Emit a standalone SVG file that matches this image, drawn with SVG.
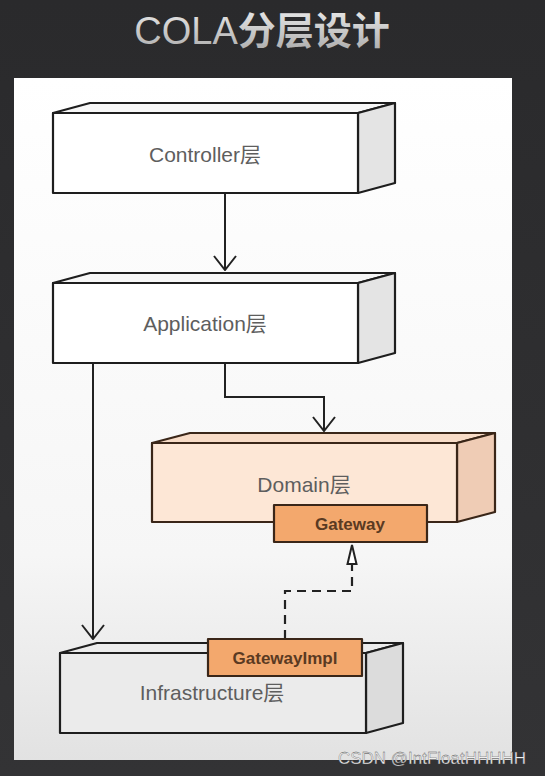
<svg xmlns="http://www.w3.org/2000/svg" width="545" height="776" viewBox="0 0 545 776">
<defs>
<linearGradient id="bg" x1="0" y1="0" x2="0" y2="1"><stop offset="0" stop-color="#2a2a2c"/><stop offset="1" stop-color="#333335"/></linearGradient>
<linearGradient id="panel" x1="0" y1="0" x2="0" y2="1"><stop offset="0" stop-color="#ffffff"/><stop offset="0.7" stop-color="#f6f6f6"/><stop offset="1" stop-color="#e2e2e2"/></linearGradient>
<linearGradient id="title" x1="0" y1="0" x2="0" y2="1"><stop offset="0" stop-color="#f4f4f4"/><stop offset="1" stop-color="#a8a8a8"/></linearGradient>
<marker id="open" viewBox="0 0 24 16" refX="12" refY="15" markerWidth="24" markerHeight="16" markerUnits="userSpaceOnUse" orient="0">
<path d="M1,1 L12,15 L23,1" fill="none" stroke="#222" stroke-width="2"/>
</marker>
</defs>
<style>
.edge{stroke:#222;stroke-width:2;fill:none}
.dash{stroke:#222;stroke-width:2.2;fill:none;stroke-dasharray:9 6}
.box{stroke:#1e1e1e;stroke-width:2.2;stroke-linejoin:round}
.dbox{stroke:#3a2618;stroke-width:2.2;stroke-linejoin:round}
.lbl{font-family:"Liberation Sans","Noto Sans CJK SC",sans-serif;font-size:21px;fill:#5e5e5e;text-anchor:middle}
.olbl{font-family:"Liberation Sans","Noto Sans CJK SC",sans-serif;font-size:17px;font-weight:bold;fill:#5a3a22;text-anchor:middle}
</style>
<rect x="0" y="0" width="545" height="776" fill="url(#bg)"/>
<rect x="14" y="78" width="498" height="682" fill="url(#panel)"/>
<text x="262" y="44" font-family="Liberation Sans,Noto Sans CJK SC,sans-serif" font-size="38" fill="url(#title)" text-anchor="middle"><tspan font-weight="normal">COLA</tspan><tspan font-family="Noto Sans CJK SC,sans-serif" font-weight="bold">分层设计</tspan></text>

<g id="edges">
<line class="edge" x1="225" y1="193" x2="225" y2="270" marker-end="url(#open)"/>
<polyline class="edge" points="225,363 225,397 324,397 324,431" marker-end="url(#open)"/>
<line class="edge" x1="93" y1="363" x2="93" y2="639" marker-end="url(#open)"/>
<polyline class="dash" points="285,639 285,591 352,591 352,565"/>
<path d="M352,545 L356.5,564 L347.5,564 Z" fill="#fff" stroke="#222" stroke-width="2" stroke-linejoin="miter"/>
</g>

<g id="controller">
<polygon class="box" points="53,113 90,103 395,103 358,113" fill="#f7f7f7"/>
<polygon class="box" points="358,113 395,103 395,183 358,193" fill="#e4e4e4"/>
<rect class="box" x="53" y="113" width="305" height="80" fill="#ffffff"/>
<text class="lbl" x="205" y="162">Controller层</text>
</g>

<g id="application">
<polygon class="box" points="53,283 90,273 395,273 358,283" fill="#f7f7f7"/>
<polygon class="box" points="358,283 395,273 395,353 358,363" fill="#e4e4e4"/>
<rect class="box" x="53" y="283" width="305" height="80" fill="#ffffff"/>
<text class="lbl" x="205" y="331">Application层</text>
</g>

<g id="domain">
<polygon class="dbox" points="152,443 190,433 495,433 457,443" fill="#f8dcc7"/>
<polygon class="dbox" points="457,443 495,433 495,512 457,522" fill="#efccb5"/>
<rect class="dbox" x="152" y="443" width="305" height="79" fill="#fde7d6"/>
<text class="lbl" x="304" y="492" fill="#6a5a50">Domain层</text>
</g>

<g id="gateway">
<rect class="dbox" x="274" y="505" width="153" height="37" fill="#f3a86d"/>
<text class="olbl" x="350" y="530">Gateway</text>
</g>

<g id="infrastructure">
<polygon class="box" points="60,653 97,643 403,643 366,653" fill="#ececec"/>
<polygon class="box" points="366,653 403,643 403,723 366,733" fill="#dcdcdc"/>
<rect class="box" x="60" y="653" width="306" height="80" fill="#ebebeb"/>
<text class="lbl" x="212" y="700">Infrastructure层</text>
</g>

<g id="gatewayimpl">
<rect class="dbox" x="208" y="639" width="154" height="37" fill="#f3a86d"/>
<text class="olbl" x="285" y="664">GatewayImpl</text>
</g>

<text x="432" y="764" font-family="Liberation Sans,sans-serif" font-size="17" fill="#eeeeee" stroke="#444" stroke-width="0.3" text-anchor="middle">CSDN @IntFloatHHHHH</text>
</svg>
